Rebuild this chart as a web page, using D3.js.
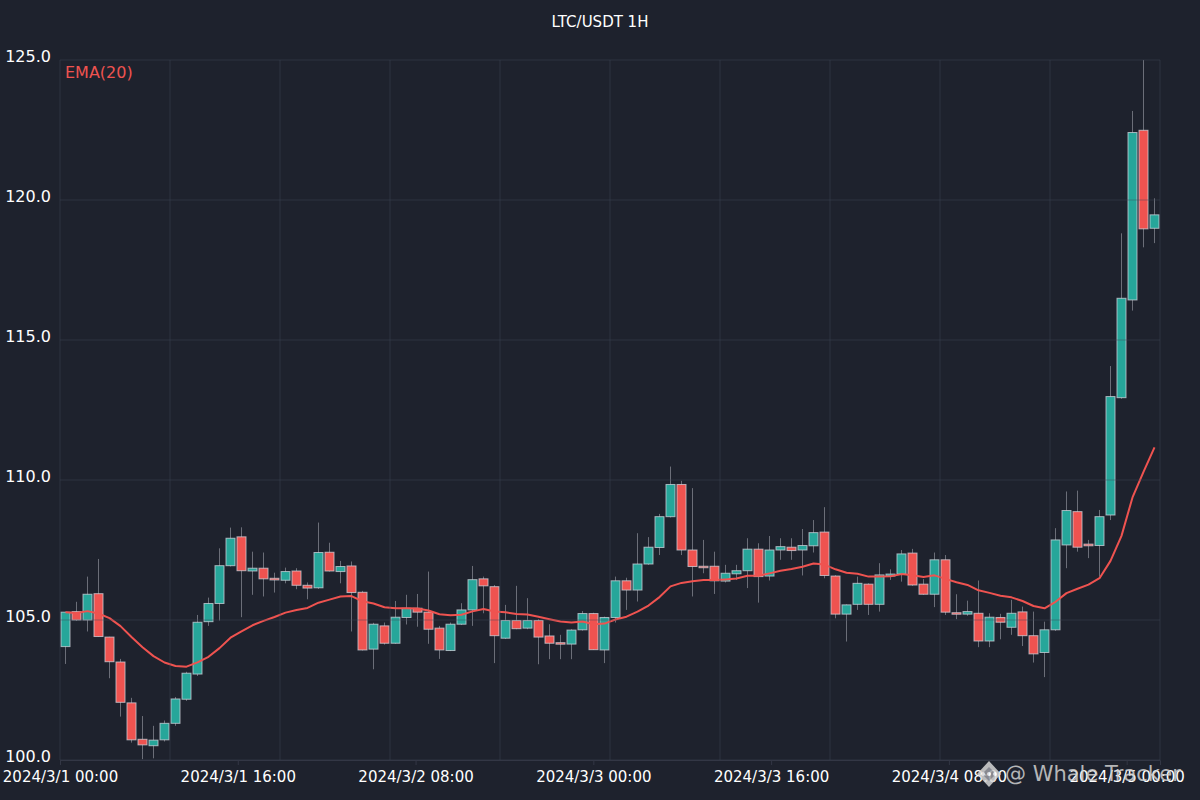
<!DOCTYPE html>
<html>
<head>
<meta charset="utf-8">
<script src="https://cdn.jsdelivr.net/npm/d3@7"></script>
<style>
  html, body { margin: 0; padding: 0; background: #1e222d; }
  svg { display: block; font-family: "DejaVu Sans", sans-serif; }
</style>
</head>
<body>
<svg id="chart"></svg>
<script>
// hourly candles, values
const openVals = [
  104.05, 105.30, 105.00, 105.94, 104.39, 103.50, 102.04, 100.74, 100.51, 100.72,
  101.31, 102.17, 103.07, 104.94, 105.59, 106.94, 107.97, 106.75, 106.85, 106.49,
  106.42, 106.75, 106.24, 106.15, 107.42, 106.73, 106.93, 105.99, 103.96, 104.79,
  104.17, 105.09, 105.42, 105.28, 104.71, 103.91, 104.85, 105.36, 106.47, 106.19,
  104.35, 104.98, 104.71, 104.98, 104.43, 104.19, 104.14, 104.65, 105.23, 103.93,
  105.09, 106.40, 106.07, 107.00, 107.59, 108.69, 109.84, 107.50, 106.92, 106.92,
  106.39, 106.65, 106.76, 107.53, 106.57, 107.50, 107.60, 107.50, 107.65, 108.14,
  106.57, 105.21, 105.56, 106.28, 105.56, 106.57, 106.64, 107.39, 106.28, 105.92,
  107.15, 105.26, 105.21, 105.24, 104.25, 105.09, 104.74, 105.29, 104.44, 103.84,
  104.65, 107.68, 108.87, 107.71, 107.66, 108.75, 112.94, 116.43, 122.49, 118.99
];
const highVals = [
  105.29, 105.65, 106.55, 107.18, 104.40, 103.61, 102.22, 101.57, 101.22, 101.41,
  102.25, 103.15, 105.18, 105.80, 107.56, 108.30, 108.31, 107.44, 107.41, 106.69,
  106.87, 106.85, 106.34, 108.48, 107.76, 107.11, 107.09, 106.04, 104.90, 104.91,
  105.68, 105.90, 105.93, 106.73, 104.79, 104.91, 105.60, 106.93, 106.55, 106.25,
  105.54, 106.22, 105.78, 105.03, 104.85, 104.47, 104.67, 105.32, 105.26, 105.12,
  106.55, 106.51, 108.10, 107.96, 108.79, 110.48, 109.97, 109.71, 107.86, 107.44,
  106.97, 106.97, 107.92, 107.74, 108.00, 107.92, 107.92, 108.25, 108.57, 109.03,
  106.60, 105.56, 106.55, 106.31, 107.03, 106.81, 107.50, 107.54, 106.46, 107.41,
  107.32, 105.92, 105.69, 106.41, 105.24, 105.22, 105.72, 105.48, 105.30, 104.94,
  108.28, 109.59, 109.62, 107.86, 108.93, 114.07, 118.81, 123.18, 125.00, 120.06
];
const lowVals = [
  103.43, 104.97, 104.59, 104.40, 102.92, 101.55, 100.62, 100.03, 100.06, 100.66,
  101.22, 102.11, 103.00, 104.79, 104.98, 106.91, 105.10, 105.90, 105.84, 105.98,
  106.31, 106.10, 105.74, 106.11, 106.73, 106.31, 104.59, 103.91, 103.24, 104.12,
  104.15, 104.84, 104.76, 104.15, 103.61, 103.89, 104.82, 104.79, 105.24, 103.46,
  104.32, 104.67, 104.67, 103.42, 103.60, 103.60, 103.60, 104.62, 103.93, 103.46,
  104.91, 105.36, 105.66, 106.97, 107.32, 108.66, 107.32, 105.84, 106.67, 105.93,
  106.34, 106.43, 106.14, 105.62, 106.41, 107.15, 107.15, 106.59, 107.41, 106.49,
  105.06, 104.23, 105.36, 105.18, 105.30, 106.43, 106.37, 106.22, 105.90, 105.46,
  105.18, 105.03, 105.15, 104.03, 104.03, 104.31, 104.47, 104.07, 103.48, 102.96,
  104.61, 106.85, 107.44, 107.21, 106.55, 108.57, 112.90, 116.05, 118.31, 118.46
];
const closeVals = [
  105.28, 105.00, 105.92, 104.41, 103.51, 102.06, 100.72, 100.54, 100.71, 101.31,
  102.18, 103.10, 104.92, 105.59, 106.94, 107.92, 106.76, 106.85, 106.47, 106.43,
  106.73, 106.24, 106.14, 107.41, 106.75, 106.91, 105.98, 103.93, 104.85, 104.17,
  105.10, 105.42, 105.28, 104.67, 103.93, 104.85, 105.36, 106.44, 106.22, 104.44,
  104.98, 104.69, 104.98, 104.39, 104.17, 104.14, 104.64, 105.23, 103.94, 105.09,
  106.40, 106.07, 107.00, 107.60, 108.69, 109.84, 107.50, 106.91, 106.89, 106.40,
  106.67, 106.76, 107.53, 106.55, 107.50, 107.62, 107.48, 107.66, 108.12, 106.59,
  105.21, 105.54, 106.31, 105.56, 106.61, 106.64, 107.36, 106.25, 105.92, 107.15,
  105.28, 105.22, 105.30, 104.25, 105.10, 104.92, 105.24, 104.44, 103.79, 104.65,
  107.86, 108.91, 107.60, 107.65, 108.69, 112.98, 116.49, 122.41, 118.97, 119.47
];

const yTicks = [100, 105, 110, 115, 120, 125];
const tickLabels = [
  "2024/3/1 00:00", "2024/3/1 16:00", "2024/3/2 08:00", "2024/3/3 00:00",
  "2024/3/3 16:00", "2024/3/4 08:00", "2024/3/5 00:00"
];
const tickEvery = 16;
const gridEvery = 10;
const emaPeriod = 20;

const titleText = "LTC/USDT 1H";
const legendText = "EMA(" + emaPeriod + ")";
const watermarkText = "@ Whale Tracker";

const width = 1200, height = 800;
const margin = { top: 60, right: 40, bottom: 40, left: 60 };
const upColor = "#26a69a", downColor = "#ef5350";

const n = closeVals.length;
const candles = d3.range(n).map(i => ({
  i: i, open: openVals[i], high: highVals[i], low: lowVals[i], close: closeVals[i]
}));

// exponential moving average of the close
const ema = [];
const k = 2 / (emaPeriod + 1);
closeVals.forEach((c, i) => {
  ema.push(i === 0 ? c : ema[i - 1] + k * (c - ema[i - 1]));
});

const svg = d3.select("#chart").attr("width", width).attr("height", height);
svg.append("rect").attr("width", width).attr("height", height).attr("fill", "#1e222d");

const x = d3.scaleBand()
  .domain(d3.range(n))
  .range([margin.left, width - margin.right])
  .paddingInner(0.18)
  .paddingOuter(0.09);

// axis labels run on an index scale from first to last candle
const xAxisScale = d3.scaleLinear()
  .domain([0, n - 1])
  .range([margin.left, width - margin.right]);

const y = d3.scaleLinear()
  .domain([d3.min(yTicks), d3.max(yTicks)])
  .range([height - margin.bottom, margin.top]);

const cx = i => x(i) + x.bandwidth() / 2;

// wicks
svg.append("g")
  .selectAll("line")
  .data(candles)
  .join("line")
  .attr("x1", d => cx(d.i)).attr("x2", d => cx(d.i))
  .attr("y1", d => y(d.high)).attr("y2", d => y(d.low))
  .attr("stroke", "#6b6e78")
  .attr("stroke-width", 1);

// bodies
svg.append("g")
  .selectAll("rect")
  .data(candles)
  .join("rect")
  .attr("x", d => x(d.i))
  .attr("width", x.bandwidth())
  .attr("y", d => y(Math.max(d.open, d.close)))
  .attr("height", d => Math.max(1.5, Math.abs(y(d.open) - y(d.close))))
  .attr("fill", d => d.close >= d.open ? upColor : downColor)
  .attr("stroke", "#d1d4dc")
  .attr("stroke-opacity", 0.75)
  .attr("stroke-width", 1);

// moving average
svg.append("path")
  .datum(ema)
  .attr("fill", "none")
  .attr("stroke", "#ef5350")
  .attr("stroke-width", 2)
  .attr("stroke-linejoin", "round")
  .attr("d", d3.line().x((d, i) => cx(i)).y(d => y(d)));

// grid sits on top of the candles
const grid = svg.append("g")
  .attr("stroke", "rgb(64,70,92)")
  .attr("stroke-opacity", 0.45)
  .attr("stroke-width", 1);

grid.selectAll(".h")
  .data(yTicks)
  .join("line")
  .attr("class", "h")
  .attr("x1", margin.left).attr("x2", width - margin.right)
  .attr("y1", d => y(d)).attr("y2", d => y(d));

grid.selectAll(".v")
  .data(d3.range(0, n + 1, gridEvery))
  .join("line")
  .attr("class", "v")
  .attr("x1", d => margin.left + d * x.step()).attr("x2", d => margin.left + d * x.step())
  .attr("y1", margin.top).attr("y2", height - margin.bottom);

// x axis
const xAxis = svg.append("g")
  .attr("transform", `translate(0, ${height - margin.bottom})`)
  .call(d3.axisBottom(xAxisScale)
    .tickValues(tickLabels.map((_, j) => j * tickEvery))
    .tickFormat((d, j) => tickLabels[j])
    .tickSize(5)
    .tickPadding(6));
xAxis.select(".domain").attr("stroke", "#333745");
xAxis.selectAll(".tick line").attr("stroke", "#333745");
xAxis.selectAll(".tick text")
  .attr("fill", "#ffffff")
  .attr("font-size", 15)
  .attr("font-family", "DejaVu Sans, sans-serif");

// y labels
svg.append("g")
  .selectAll("text")
  .data(yTicks)
  .join("text")
  .attr("x", 51)
  .attr("y", d => y(d) - 3.5)
  .attr("dy", "0.36em")
  .attr("text-anchor", "end")
  .attr("fill", "#ffffff")
  .attr("font-size", 16)
  .text(d => d.toFixed(1));

// title and legend
svg.append("text")
  .attr("x", width / 2).attr("y", 22).attr("dy", "0.36em")
  .attr("text-anchor", "middle")
  .attr("fill", "#ffffff")
  .attr("font-size", 15)
  .text(titleText);

svg.append("text")
  .attr("x", margin.left + 5).attr("y", 72.5).attr("dy", "0.36em")
  .attr("fill", "#ef5350")
  .attr("font-size", 16)
  .text(legendText);

// watermark, laid over the last axis label as in the reference
const wm = svg.append("g").attr("opacity", 0.85);
const iconX = 989, iconY = 774;
wm.append("path")
  .attr("d", `M${iconX},${iconY - 13} L${iconX + 12},${iconY} L${iconX},${iconY + 13} L${iconX - 12},${iconY} Z`)
  .attr("fill", "#d6d6d6");
wm.append("path")
  .attr("d", `M${iconX},${iconY - 7} L${iconX + 7},${iconY} L${iconX},${iconY + 7} L${iconX - 7},${iconY} Z`)
  .attr("fill", "#9a9ca3");
[-6, 0, 6].forEach(dx => {
  wm.append("circle").attr("cx", iconX + dx).attr("cy", iconY).attr("r", 2).attr("fill", "#ffffff");
});
wm.append("text")
  .attr("x", 1005).attr("y", 781)
  .attr("fill", "#d0d0d0")
  .attr("font-size", 21)
  .text(watermarkText);
</script>
</body>
</html>
